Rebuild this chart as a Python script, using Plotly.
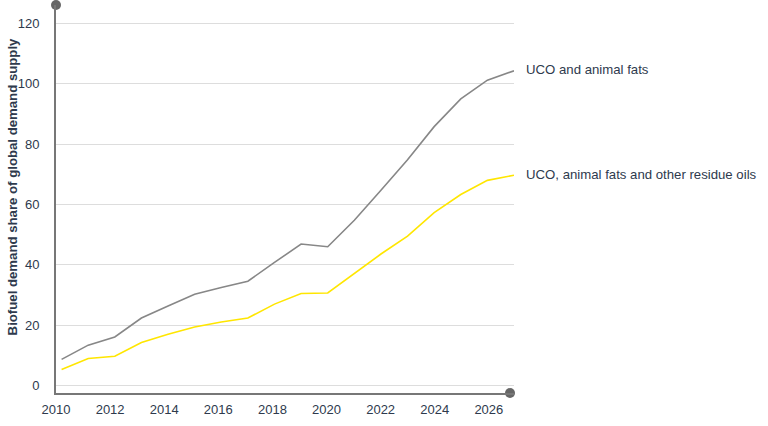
import plotly.graph_objects as go

years = list(range(2010, 2028))
uco_animal = [8.7, 13.4, 16.1, 22.4, 26.4, 30.3, 32.5, 34.6, 40.8, 46.9, 46.0,
              54.8, 64.7, 74.8, 85.8, 95.0, 101.2, 104.3]
uco_residue = [5.3, 9.0, 9.7, 14.3, 17.0, 19.4, 21.1, 22.4, 27.0, 30.5, 30.7,
               37.3, 43.6, 49.5, 57.3, 63.3, 68.0, 69.7]
series_names = ["UCO and animal fats", "UCO, animal fats and other residue oils"]
x_ticks = list(range(2010, 2027, 2))
y_ticks = [0, 20, 40, 60, 80, 100, 120]

TEXT = "#2e3a4d"
FONT = "Liberation Sans, Arial, sans-serif"

fig = go.Figure()
fig.add_trace(go.Scatter(x=years, y=uco_animal, mode="lines",
                         line=dict(color="#878787", width=1.6), name=series_names[0]))
fig.add_trace(go.Scatter(x=years, y=uco_residue, mode="lines",
                         line=dict(color="#ffe600", width=1.6), name=series_names[1]))

# invisible trace to carry the label axis
fig.add_trace(go.Scatter(x=[x_ticks[0]], y=[0], xaxis="x2", mode="markers",
                         marker=dict(opacity=0), showlegend=False, hoverinfo="skip"))

# end labels
for name, vals in zip(series_names, [uco_animal, uco_residue]):
    fig.add_annotation(x=years[-1], y=vals[-1], text=name, showarrow=False,
                       xanchor="left", yanchor="middle", xshift=10, yshift=1,
                       font=dict(family=FONT, size=13.2, color=TEXT))

# axis-end dots
fig.add_trace(go.Scatter(x=[2009.79, 2026.85], y=[126.1, -2.45], mode="markers",
                         marker=dict(color="#666666", size=10), cliponaxis=False,
                         showlegend=False, hoverinfo="skip"))

fig.add_annotation(xref="paper", yref="paper", x=-0.093, y=0.531,
                   text="<b>Biofuel demand share of global demand supply</b>",
                   textangle=-90, showarrow=False, xanchor="center", yanchor="middle",
                   font=dict(family=FONT, size=13.2, color=TEXT))

fig.update_layout(
    width=768, height=426,
    margin=dict(l=56, r=254, t=5, b=33),
    paper_bgcolor="white", plot_bgcolor="white",
    showlegend=False,
    font=dict(family=FONT, size=12, color=TEXT),
    xaxis=dict(range=[2009.79, 2027.0], showticklabels=False,
               showgrid=False, zeroline=False, showline=True, linecolor="#777777",
               linewidth=2, ticks=""),
    xaxis2=dict(range=[2010, 2026.93], overlaying="x", side="bottom",
                tickvals=x_ticks, ticktext=[str(v) for v in x_ticks],
                showgrid=False, zeroline=False, showline=False, ticks="",
                ticklabelstandoff=7,
                tickfont=dict(family=FONT, size=13, color=TEXT)),
    yaxis=dict(range=[-2.45, 126.1], tickvals=y_ticks, ticktext=[str(v) for v in y_ticks],
               showgrid=True, gridcolor="#dddddd", gridwidth=1, zeroline=False,
               showline=True, linecolor="#777777", linewidth=2, ticks="",
               ticklabelstandoff=12,
               tickfont=dict(family=FONT, size=13, color=TEXT)),
)

fig.write_html("out.html")
